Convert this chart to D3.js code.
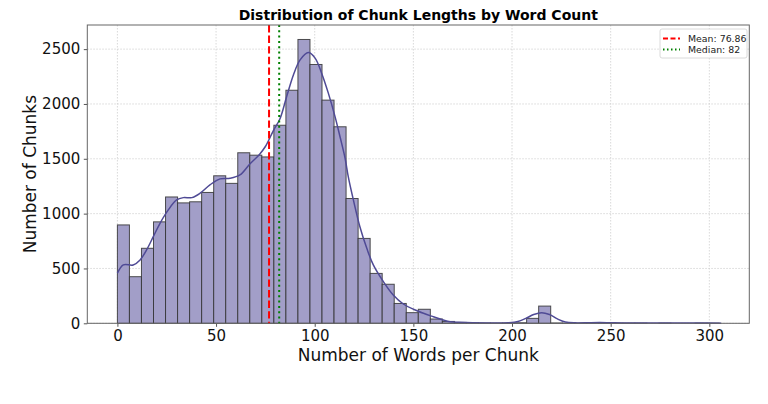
<!DOCTYPE html>
<html><head><meta charset="utf-8">
<script src="https://cdn.jsdelivr.net/npm/d3@7"></script>
<style>body{margin:0;background:#fff}svg{display:block}text{font-family:"DejaVu Sans",sans-serif}</style>
</head><body><svg id="c" width="768" height="404"></svg>
<script>
// Histogram: 50 bins from 0 to 305 words
const binStart = 0;
const binEnd = 305;
const binCounts = [897, 425, 684, 925, 1152, 1098, 1108, 1193, 1345, 1276,
  1555, 1533, 1517, 1806, 2125, 2588, 2360, 2035, 1792, 1138,
  774, 455, 356, 181, 97, 128, 39, 17, 8, 4,
  2, 1, 2, 5, 45, 157, 3, 1, 1, 2,
  2, 1, 1, 1, 0, 1, 0, 0, 1, 1];
// KDE curve: word count, density (scaled to counts)
const kdeX = [0, 3, 8, 11.5, 14.8, 18.2, 21.6, 25.8, 30, 33.4, 37.7, 41.9, 46.9, 52, 57.1, 62.1, 67, 72, 75, 79, 82.4, 85.8, 89.2, 92.6, 96.8, 100.2, 103.5, 106.9, 110.3, 112.8, 115.4, 117, 119.6, 122.9, 126.4, 129.7, 134.8, 139.8, 144.9, 150, 155.1, 160.1, 165.2, 168.6, 173, 180, 190, 198, 203, 207, 211, 215, 219, 223, 227, 232, 240, 248, 256, 270, 290, 306];
const kdeY = [456, 532, 532, 578, 669, 790, 912, 1034, 1125, 1146, 1146, 1186, 1262, 1317, 1323, 1353, 1450, 1540, 1612, 1755, 1865, 2068, 2265, 2402, 2469, 2418, 2281, 2099, 1885, 1703, 1505, 1338, 1125, 881, 684, 532, 380, 258, 176, 128, 91, 60, 30, 15, 9, 4, 3, 5, 16, 45, 80, 97, 80, 40, 12, 4, 6, 6, 3, 2, 2, 1];
const meanVal = 76.86;
const medianVal = 82;
const xTicks = [0, 50, 100, 150, 200, 250, 300];
const yTicks = [0, 500, 1000, 1500, 2000, 2500];
const titleText = "Distribution of Chunk Lengths by Word Count";
const xLabel = "Number of Words per Chunk";
const yLabel = "Number of Chunks";
const legendLabels = ["Mean: 76.86", "Median: 82"];

const svg = d3.select("#c");
const L = 87.3, R = 749.3, T = 25, B = 323.3;
const x = d3.scaleLinear().domain([-15.25, 320.25]).range([L, R]);
const y = d3.scaleLinear().domain([0, 2720]).range([B, T]);

// grid
const g = svg.append("g");
g.selectAll("line.gx").data(xTicks).join("line")
  .attr("x1", d => x(d)).attr("x2", d => x(d)).attr("y1", T).attr("y2", B)
  .attr("stroke", "#cfcfcf").attr("stroke-width", 0.8).attr("stroke-dasharray", "1.5,1.5");
g.selectAll("line.gy").data(yTicks).join("line")
  .attr("y1", d => y(d)).attr("y2", d => y(d)).attr("x1", L).attr("x2", R)
  .attr("stroke", "#cfcfcf").attr("stroke-width", 0.8).attr("stroke-dasharray", "1.5,1.5");

// bars
const bw = (binEnd - binStart) / binCounts.length;
svg.append("g").selectAll("rect").data(binCounts).join("rect")
  .attr("x", (d, i) => x(binStart + i * bw))
  .attr("width", (d, i) => x(binStart + (i + 1) * bw) - x(binStart + i * bw))
  .attr("y", d => y(d)).attr("height", d => B - y(d))
  .attr("fill", "#a29ec8").attr("stroke", "#333").attr("stroke-opacity", 0.85).attr("stroke-width", 1);

// kde
const kde = kdeX.map((v, i) => [v, kdeY[i]]);
svg.append("path").datum(kde)
  .attr("d", d3.line().x(d => x(d[0])).y(d => y(d[1])).curve(d3.curveCatmullRom))
  .attr("fill", "none").attr("stroke", "#4f4a95").attr("stroke-width", 1.5);

// mean/median
svg.append("line").attr("x1", x(meanVal)).attr("x2", x(meanVal)).attr("y1", T).attr("y2", B)
  .attr("stroke", "#ff0000").attr("stroke-width", 2).attr("stroke-dasharray", "7.4,3.2");
svg.append("line").attr("x1", x(medianVal)).attr("x2", x(medianVal)).attr("y1", T).attr("y2", B)
  .attr("stroke", "#008000").attr("stroke-width", 2).attr("stroke-dasharray", "2,3.3");

// axes
const xa = svg.append("g").attr("transform", `translate(0,${B})`)
  .call(d3.axisBottom(x).tickValues(xTicks).tickSize(3.5).tickPadding(3.5).tickFormat(d3.format("d")));
const ya = svg.append("g").attr("transform", `translate(${L},0)`)
  .call(d3.axisLeft(y).tickValues(yTicks).tickSize(3.5).tickPadding(3.5).tickFormat(d3.format("d")));
[xa, ya].forEach(a => {
  a.select(".domain").remove();
  a.selectAll(".tick line").attr("stroke", "#555");
  a.selectAll(".tick text").attr("font-size", 15).attr("fill", "#111").style("font-family", "DejaVu Sans");
});
svg.append("rect").attr("x", L).attr("y", T).attr("width", R - L).attr("height", B - T)
  .attr("fill", "none").attr("stroke", "#666").attr("stroke-width", 1);

// labels
svg.append("text").attr("x", (L + R) / 2).attr("y", 20).attr("text-anchor", "middle")
  .attr("font-size", 14).attr("font-weight", "bold").text(titleText);
svg.append("text").attr("x", (L + R) / 2).attr("y", 361).attr("text-anchor", "middle")
  .attr("font-size", 17).attr("fill", "#111").text(xLabel);
svg.append("text").attr("transform", `translate(36,${(T + B) / 2}) rotate(-90)`).attr("text-anchor", "middle")
  .attr("font-size", 17).attr("fill", "#111").text(yLabel);

// legend
const lg = svg.append("g");
lg.append("rect").attr("x", 660).attr("y", 29).attr("width", 87).attr("height", 29).attr("rx", 2)
  .attr("fill", "#fff").attr("fill-opacity", 0.8).attr("stroke", "#d0d0d0").attr("stroke-width", 0.8);
lg.append("line").attr("x1", 663).attr("x2", 680).attr("y1", 38.5).attr("y2", 38.5)
  .attr("stroke", "#ff0000").attr("stroke-width", 2).attr("stroke-dasharray", "5,2.5");
lg.append("line").attr("x1", 663).attr("x2", 680).attr("y1", 49.5).attr("y2", 49.5)
  .attr("stroke", "#008000").attr("stroke-width", 2).attr("stroke-dasharray", "1.5,2.5");
lg.selectAll("text").data(legendLabels).join("text")
  .attr("x", 688).attr("y", (d, i) => 41.8 + i * 11).attr("font-size", 9.4).attr("fill", "#222").text(d => d);
</script></body></html>
